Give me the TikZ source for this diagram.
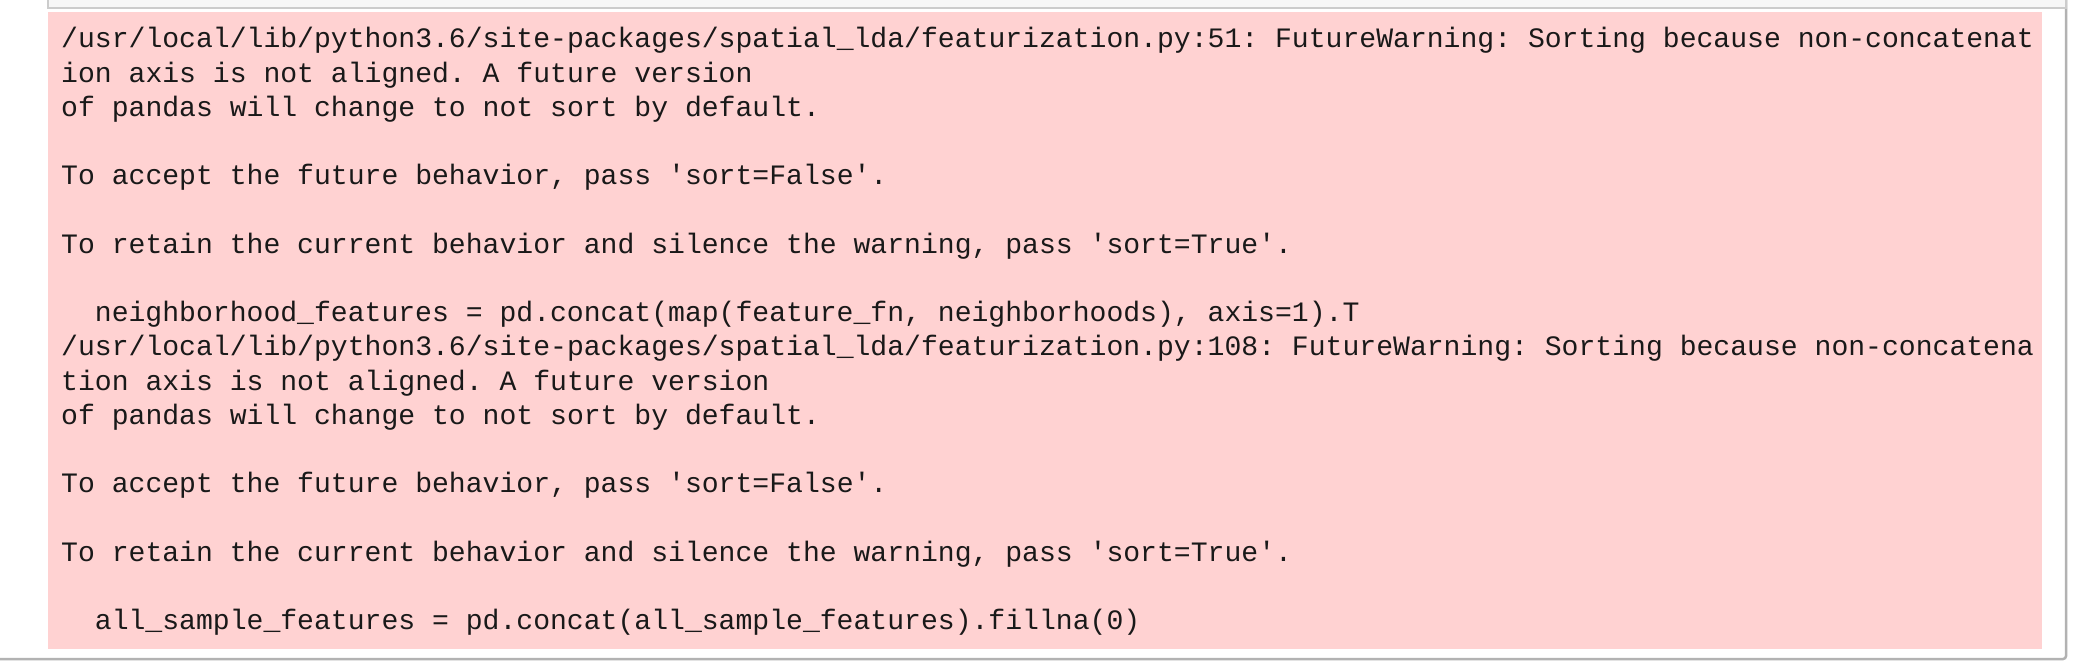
\documentclass[tikz,border=0pt]{standalone}
\usepackage{fontspec}
\setmonofont{Liberation Mono}
\begin{document}
\begin{tikzpicture}[x=1pt,y=-1pt,
  ln/.style={anchor=base west,inner sep=0pt,font=\ttfamily\fontsize{28.1}{34}\selectfont,text=black!90}]
\useasboundingbox (0,0) rectangle (2084,668);
\fill[white] (0,0) rectangle (2084,668);
\draw[black!30,line width=2.5pt,rounded corners=3pt] (-10,659) -- (2066,659) -- (2066,-10);
\filldraw[fill=black!3,draw=black!20,line width=1.2pt] (48,-10) rectangle (2066,8);
\fill[red!50!pink!28] (48,12) rectangle (2042,649);
\def\L#1#2{\node[ln] (l#1) at (61,{48+34.2*#1}) {#2};}
\L{0}{/usr/local/lib/python3.6/site-packages/spatial\_lda/featurization.py:51: FutureWarning: Sorting because non-concatenat}
\L{1}{ion axis is not aligned. A future version}
\L{2}{of pandas will change to not sort by default.}
\L{4}{To accept the future behavior, pass 'sort=False'.}
\L{6}{To retain the current behavior and silence the warning, pass 'sort=True'.}
\L{8}{\hspace*{33.7pt}neighborhood\_features = pd.concat(map(feature\_fn, neighborhoods), axis=1).T}
\L{9}{/usr/local/lib/python3.6/site-packages/spatial\_lda/featurization.py:108: FutureWarning: Sorting because non-concatena}
\L{10}{tion axis is not aligned. A future version}
\L{11}{of pandas will change to not sort by default.}
\L{13}{To accept the future behavior, pass 'sort=False'.}
\L{15}{To retain the current behavior and silence the warning, pass 'sort=True'.}
\L{17}{\hspace*{33.7pt}all\_sample\_features = pd.concat(all\_sample\_features).fillna(0)}
\end{tikzpicture}
\end{document}
